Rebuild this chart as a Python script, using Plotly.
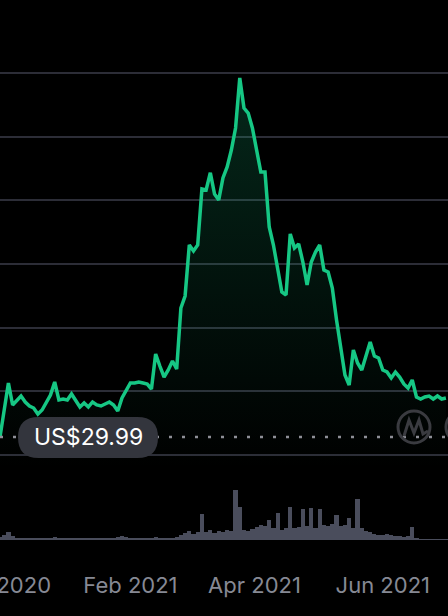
import pandas as pd
import plotly.graph_objects as go

# ---------------- data ----------------
start_date = "2020-12-01"
price = [
    29.99, 38.47, 46.96, 40.05, 41.62, 42.87, 40.99, 39.73, 39.10, 37.22,
    38.47, 40.67, 43.19, 47.27, 41.62, 41.93, 41.62, 43.50, 41.30, 39.42,
    40.67, 39.42, 40.99, 40.05, 39.73, 40.36, 40.99, 40.05, 38.16, 42.24,
    44.44, 46.96, 46.96, 47.27, 46.96, 46.64, 45.07, 56.06, 52.29, 48.84,
    51.04, 53.87, 51.35, 70.51, 74.28, 90.30, 88.42, 90.30, 107.89, 107.58,
    113.00, 106.32, 104.44, 111.35, 114.80, 120.14, 127.05, 142.76, 133.33, 131.76,
    127.05, 120.77, 113.23, 113.23, 95.95, 90.30, 82.45, 75.54, 74.60, 93.76,
    89.36, 90.62, 84.96, 77.74, 84.96, 88.10, 90.30, 82.45, 81.82, 76.79,
    66.74, 57.32, 49.47, 46.33, 57.32, 53.24, 51.04, 55.44, 59.83, 55.44,
    54.81, 51.04, 50.41, 48.53, 50.41, 48.84, 46.64, 45.38, 47.90, 42.56,
    41.93, 42.56, 42.87, 41.93, 42.87, 41.93, 42.24,
]
volume = [
    6, 10, 16, 8, 4, 4, 4, 4, 4, 4,
    3, 4, 4, 6, 4, 4, 3, 4, 3, 3,
    4, 4, 3, 4, 4, 4, 4, 4, 6, 8,
    6, 4, 4, 4, 4, 4, 4, 6, 4, 4,
    4, 4, 6, 10, 14, 18, 12, 16, 52, 16,
    20, 14, 18, 16, 20, 18, 100, 66, 20, 18,
    22, 26, 30, 28, 40, 24, 54, 20, 24, 66,
    24, 26, 62, 28, 64, 24, 62, 30, 28, 32,
    50, 28, 30, 44, 24, 82, 24, 18, 16, 12,
    10, 10, 12, 10, 8, 8, 6, 8, 26, 4,
    2, 2, 2, 2, 2, 2, 2,
]
dates = pd.date_range(start_date, periods=len(price), freq="2D")
current_price = 29.99
current_label = "US$29.99"
tick_dates = ["2020-12-01", "2021-02-01", "2021-04-01", "2021-06-01"]
tick_labels = ["Dec 2020", "Feb 2021", "Apr 2021", "Jun 2021"]

# ---------------- helpers (layout only) ----------------
W, H = 448, 616
def px(x):
    return x / W
def py(y):
    return 1 - y / H

GREEN = "#16c784"
LOGO = "#3a3b40"

fig = go.Figure()

fig.add_trace(go.Bar(
    x=dates, y=volume, xaxis="x", yaxis="y2",
    marker=dict(color="#4a4d5c", line=dict(width=0)),
    hoverinfo="skip", showlegend=False,
))

fig.add_trace(go.Scatter(
    x=dates, y=price, xaxis="x", yaxis="y",
    mode="lines",
    line=dict(color=GREEN, width=3.5),
    fill="tozeroy",
    fillgradient=dict(
        type="vertical", start=20, stop=143,
        colorscale=[[0, "rgba(22,199,132,0.0)"], [1, "rgba(22,199,132,0.20)"]],
    ),
    hoverinfo="skip", showlegend=False,
))

# dotted current-price line
fig.add_shape(type="line", xref="paper", yref="y", x0=0, x1=1,
              y0=current_price, y1=current_price,
              line=dict(color="#8e8f97", width=2.5, dash="3px,10px"), layer="above")

# pill behind the price label
x0, x1, y0, y1, r = 18, 158, 417, 458, 20.5
pill = (f"M {px(x0+r)},{py(y0)} L {px(x1-r)},{py(y0)} "
        f"Q {px(x1)},{py(y0)} {px(x1)},{py((y0+y1)/2)} "
        f"Q {px(x1)},{py(y1)} {px(x1-r)},{py(y1)} "
        f"L {px(x0+r)},{py(y1)} "
        f"Q {px(x0)},{py(y1)} {px(x0)},{py((y0+y1)/2)} "
        f"Q {px(x0)},{py(y0)} {px(x0+r)},{py(y0)} Z")
fig.add_shape(type="path", xref="paper", yref="paper", path=pill,
              fillcolor="#33353d", line=dict(width=0), layer="above")

fig.add_annotation(x=px(88), y=current_price, xref="paper", yref="y",
                   xanchor="center", yanchor="middle",
                   text=current_label, showarrow=False,
                   font=dict(family="Inter, Roboto, sans-serif", size=23, color="#ffffff"))

# watermark logos
for cx in (414, 462):
    cy, cr = 427, 16
    fig.add_shape(type="circle", xref="paper", yref="paper",
                  x0=px(cx-cr), x1=px(cx+cr), y0=py(cy+cr), y1=py(cy-cr),
                  line=dict(color=LOGO, width=3), layer="above")
mpts = [(404, 436), (409, 420), (414, 433), (419, 420), (423, 434), (428, 431)]
mpath = "M " + " L ".join(f"{px(a)},{py(b)}" for a, b in mpts)
fig.add_shape(type="path", xref="paper", yref="paper", path=mpath,
              line=dict(color=LOGO, width=3), layer="above")

fig.update_layout(
    width=W, height=H,
    margin=dict(l=0, r=0, t=0, b=0, autoexpand=False),
    paper_bgcolor="#000000", plot_bgcolor="#000000",
    bargap=0.0,
    xaxis=dict(
        type="date", anchor="y2", domain=[0, 1],
        range=["2020-12-01", "2021-07-02"],
        tickvals=tick_dates, ticktext=tick_labels,
        ticklabeloverflow="allow", automargin=False,
        showgrid=False, zeroline=False, showline=False, ticks="",
        tickfont=dict(family="Inter, Roboto, sans-serif", size=22, color="#868994"),
    ),
    yaxis=dict(
        domain=[py(470), py(40)], range=[19.63, 154.69],
        tick0=24.34, dtick=20, showticklabels=False,
        showgrid=True, gridcolor="#2c2d37", gridwidth=1.5,
        zeroline=False, showline=False,
    ),
    yaxis2=dict(
        domain=[py(570), py(480)], range=[-60, 120],
        showticklabels=False, showgrid=False, zeroline=False, showline=False,
    ),
)

fig.write_html("out.html", config={"displayModeBar": False},
               post_script="document.body.style.margin='0';")
